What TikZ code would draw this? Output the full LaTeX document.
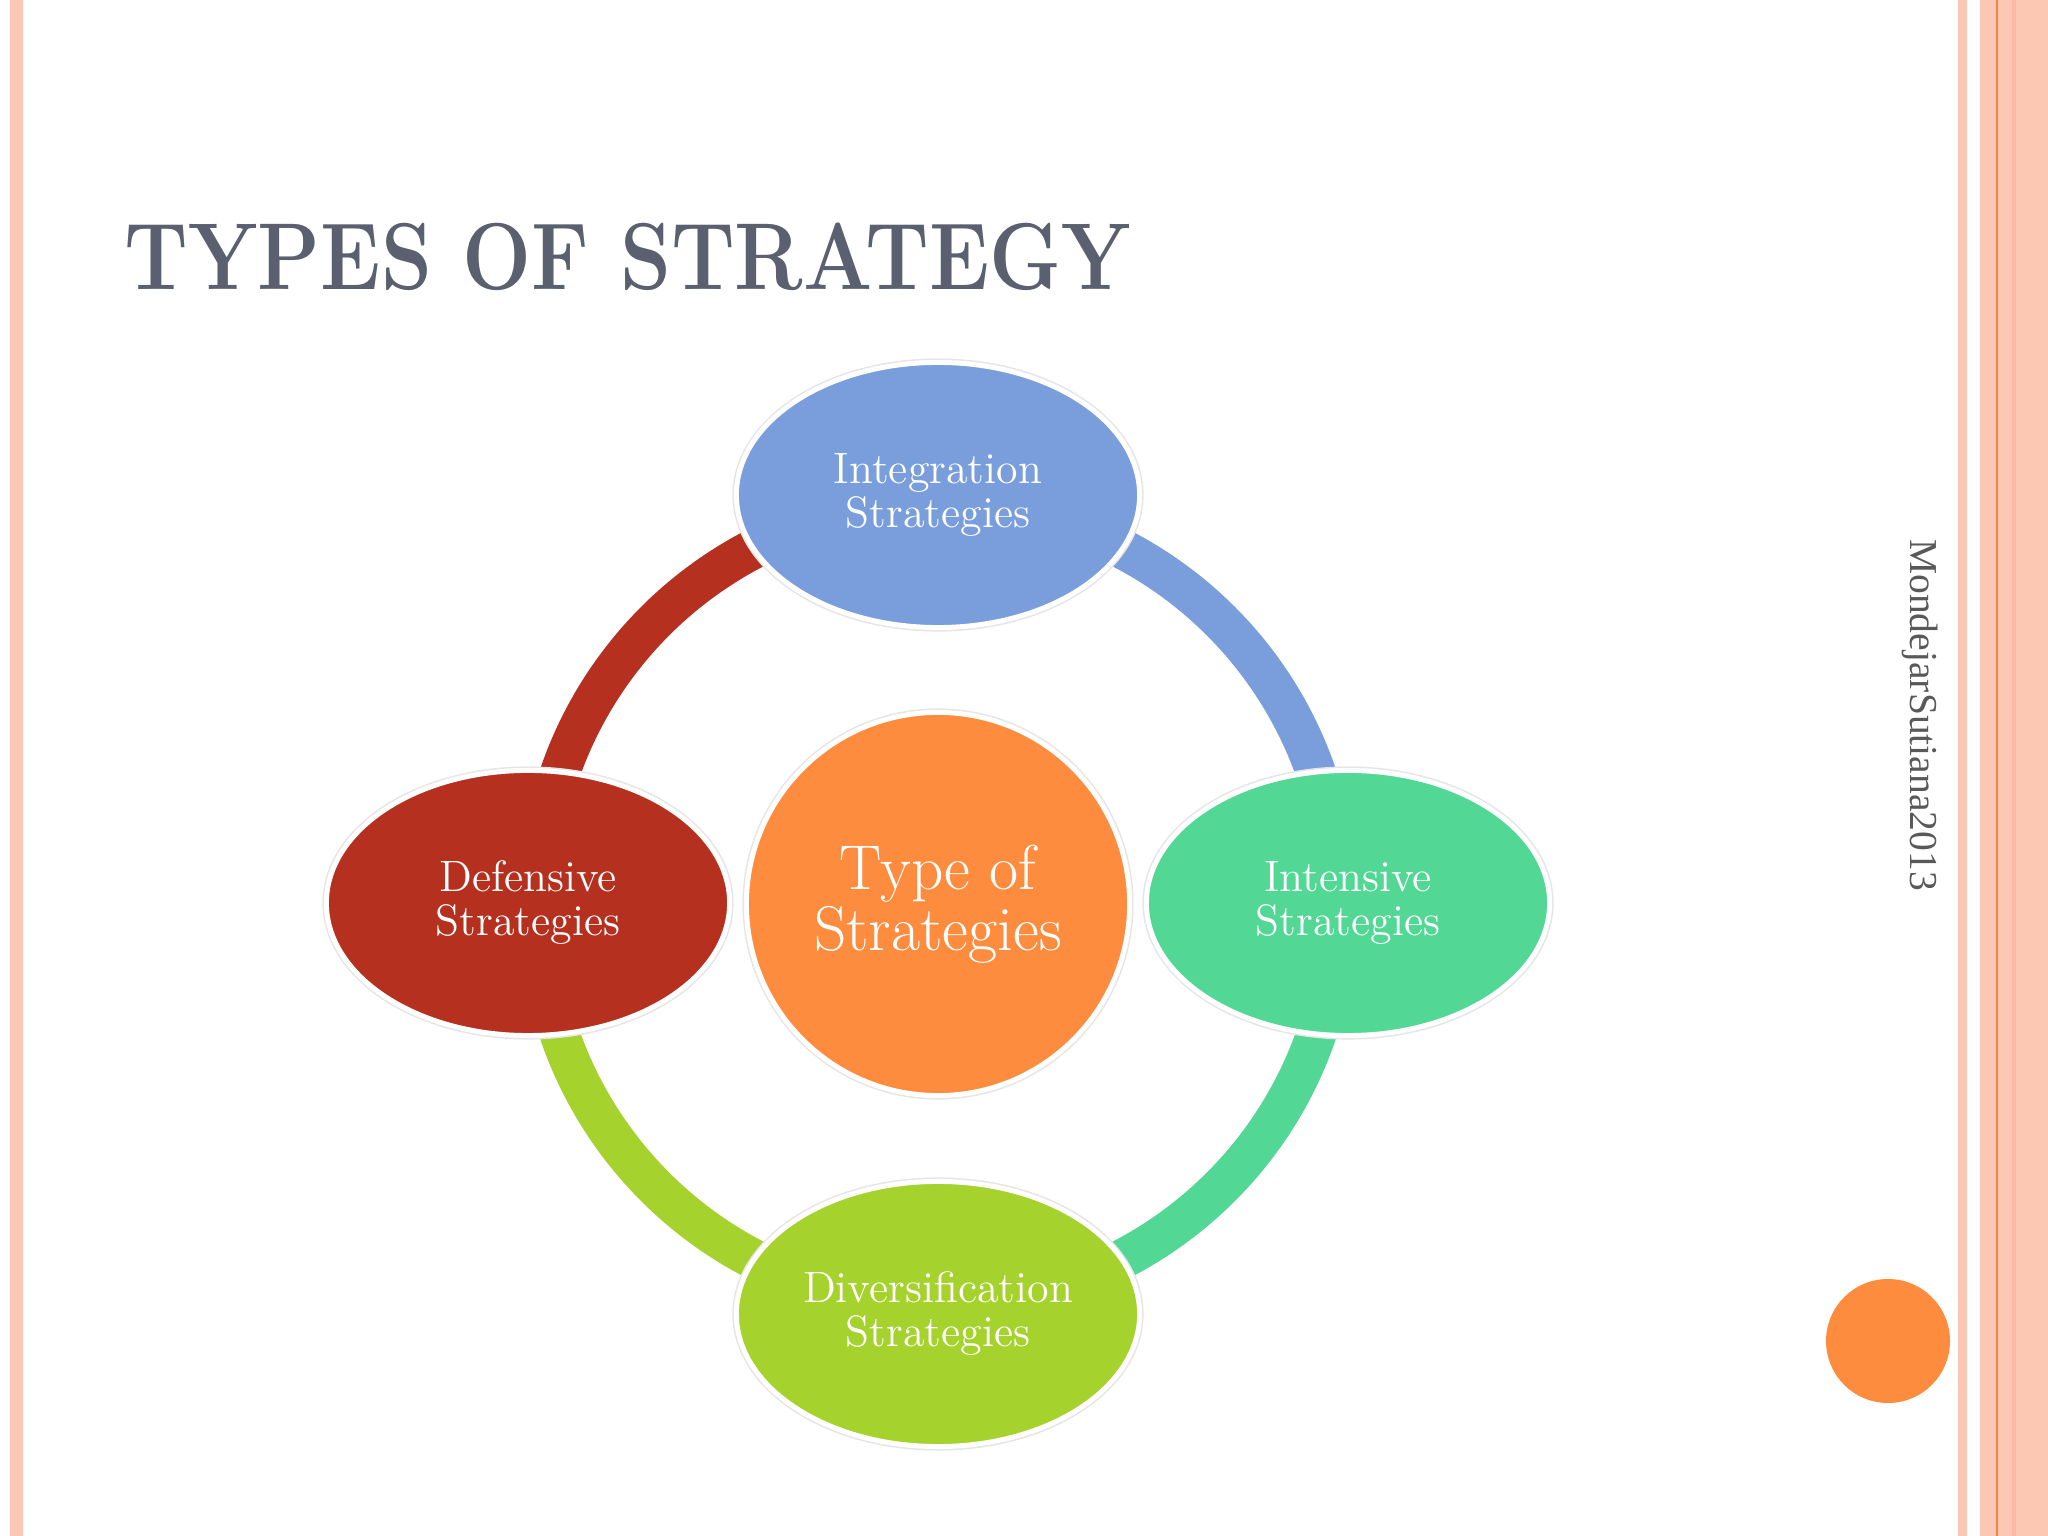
\documentclass[tikz,border=0pt]{standalone}
\usepackage{fontspec}
\usepackage{graphicx}
\usetikzlibrary{shapes.geometric}
\newfontfamily\sidefont{Liberation Serif}

\definecolor{stripe}{HTML}{FCC7B3}
\definecolor{stripedark}{HTML}{FDB9A2}
\definecolor{stripeline}{HTML}{F5844A}
\definecolor{titlegray}{HTML}{5A606F}
\definecolor{hubor}{HTML}{FE8C3E}
\definecolor{integ}{HTML}{7A9EDB}
\definecolor{defen}{HTML}{B5301E}
\definecolor{inten}{HTML}{52D894}
\definecolor{diver}{HTML}{A5D22C}

\tikzset{
  bubble/.style={ellipse, fill=#1, draw=white, line width=0.05cm,
    minimum width=4.03cm, minimum height=2.65cm, inner sep=0pt,
    align=center, text=white, font=\fontsize{12.5}{12.5}\selectfont,
    preaction={draw=black!10, line width=0.08cm}},
  hubnode/.style={circle, fill=hubor, draw=white, line width=0.05cm,
    minimum size=3.83cm, inner sep=0pt, align=center, text=white,
    font=\fontsize{18}{16}\selectfont,
    preaction={draw=black!10, line width=0.08cm}},
  arcband/.style={draw=#1, line width=0.4cm},
}

\begin{document}
\begin{tikzpicture}[x=0.01cm, y=0.01cm]
  % page
  \useasboundingbox (0,0) rectangle (2048,1536);
  \fill[white] (0,0) rectangle (2048,1536);

  % side stripes
  \fill[stripe] (10,0) rectangle (23,1536);
  \fill[stripe] (1958,0) rectangle (1967,1536);
  \fill[stripe] (1980,0) rectangle (2048,1536);
  \fill[stripedark] (2012,0) rectangle (2016,1536);
  \fill[stripeline] (1996,0) rectangle (1998,1536);

  % title
  \node[anchor=base west, inner sep=0pt, text=titlegray,
    font=\fontsize{27}{30}\bfseries] (title) at (124,1246)
    {\scalebox{0.86}[1]{TYPES OF STRATEGY}};

  % ring round the hub
  \coordinate (hub) at (938,632);
  \draw[arcband=defen] (hub) ++(90:400) arc[start angle=90, end angle=180, radius=400];
  \draw[arcband=integ] (hub) ++(0:400) arc[start angle=0, end angle=90, radius=400];
  \draw[arcband=inten] (hub) ++(-90:400) arc[start angle=-90, end angle=0, radius=400];
  \draw[arcband=diver] (hub) ++(180:400) arc[start angle=180, end angle=270, radius=400];

  % the five shapes
  \node[hubnode] (center) at (hub) {Type of\\Strategies};
  \node[bubble=integ] (integ) at (938,1041) {Integration\\Strategies};
  \node[bubble=defen] (defen) at (528,633) {Defensive\\Strategies};
  \node[bubble=inten] (inten) at (1348,633) {Intensive\\Strategies};
  \node[bubble=diver] (diver) at (938,222) {Diversification\\Strategies};

  % side note and dot
  \node[rotate=-90, inner sep=0pt, text=black!65,
    font=\sidefont\fontsize{11.25}{12}\selectfont] (author) at (1920,821)
    {MondejarSutiana2013};
  \fill[hubor] (1888,195) circle (62);
\end{tikzpicture}
\end{document}
